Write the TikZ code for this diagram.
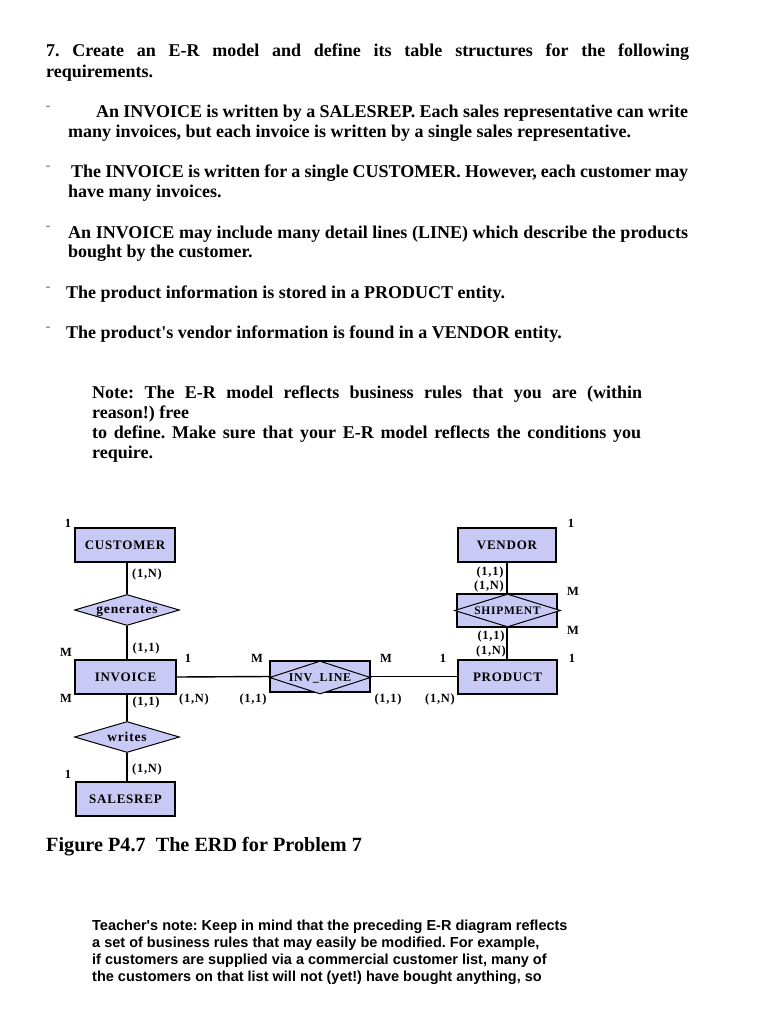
\documentclass[tikz,border=0pt]{standalone}
\usepackage{fontspec}
\setmainfont{Liberation Serif}
\newfontfamily\sansb{Liberation Sans}
\newfontfamily\dejav{DejaVu Sans}
\newfontfamily\diaf[LetterSpace=6]{Liberation Serif}
\usetikzlibrary{shapes.geometric}
\definecolor{erfill}{RGB}{201,201,245}
\frenchspacing
\begin{document}
\begin{tikzpicture}[x=1pt,y=-1pt,
  txt/.style={anchor=base west, inner sep=0pt, font=\fontsize{18}{20}\selectfont\bfseries},
  bul/.style={anchor=base, inner sep=0pt, font=\dejav\fontsize{11}{11}\selectfont},
  captxt/.style={anchor=base west, inner sep=0pt, font=\fontsize{20.2}{22}\selectfont\bfseries},
  tnote/.style={anchor=base west, inner sep=0pt, font=\sansb\fontsize{14.5}{17}\selectfont\bfseries},
  entity/.style={draw=black, line width=1.3pt, fill=erfill, minimum width=100pt, minimum height=34pt, inner sep=0pt, font=\diaf\fontsize{13}{13}\selectfont\bfseries},
  relbox/.style={draw=black, line width=1.3pt, fill=erfill, minimum width=100pt, minimum height=32pt, inner sep=0pt},
  rel/.style={diamond, draw=black, line width=1pt, fill=erfill, aspect=3.6, inner sep=0pt, text depth=0pt, minimum width=105pt, minimum height=31pt, font=\diaf\fontsize{13.5}{13.5}\selectfont\bfseries},
  card/.style={inner sep=0pt, font=\diaf\fontsize{12.5}{12.5}\selectfont\bfseries},
  conn/.style={line width=2.8pt},
  link/.style={line width=1.4pt}]
\fill[white] (0,0) rectangle (768,1024);
\useasboundingbox (0,0) rectangle (768,1024);

% ---- problem text ----
\node[txt] (l1) at (46,57) {\makebox[643pt][s]{7. Create an E-R model and define its table structures for the following}};
\node[txt] (l2) at (46,78) {requirements.};

\node[bul] (b1) at (48,115) {¨};
\node[txt] (p1a) at (96,118) {\makebox[592pt][s]{An INVOICE is written by a SALESREP. Each sales representative can write}};
\node[txt] (p1b) at (68,138) {many invoices, but each invoice is written by a single sales representative.};

\node[bul] (b2) at (48,175) {¨};
\node[txt] (p2a) at (71,178) {\makebox[617pt][s]{The INVOICE is written for a single CUSTOMER. However, each customer may}};
\node[txt] (p2b) at (68,198) {have many invoices.};

\node[bul] (b3) at (48,235) {¨};
\node[txt] (p3a) at (68,238) {\makebox[620pt][s]{An INVOICE may include many detail lines (LINE) which describe the products}};
\node[txt] (p3b) at (68,258) {bought by the customer.};

\node[bul] (b4) at (48,295) {¨};
\node[txt] (p4) at (66,298) {The product information is stored in a PRODUCT entity.};

\node[bul] (b5) at (48,335) {¨};
\node[txt] (p5) at (66,338) {The product\textquotesingle s vendor information is found in a VENDOR entity.};

\node[txt] (n1) at (92,398) {\makebox[550pt][s]{Note: The E-R model reflects business rules that you are (within}};
\node[txt] (n2) at (92,418) {reason!) free};
\node[txt] (n3) at (92,438) {\makebox[549pt][s]{to define. Make sure that your E-R model reflects the conditions you}};
\node[txt] (n4) at (92,458) {require.};

% ---- diagram ----
\node[entity] (cust) at (125,545) {CUSTOMER};
\node[entity, minimum width=98pt] (vend) at (507,545) {VENDOR};
\node[entity, minimum width=101pt] (inv) at (125.5,677) {INVOICE};
\node[entity, minimum width=99pt] (prod) at (507.5,677) {PRODUCT};
\node[entity, minimum width=99pt] (srep) at (125.5,799) {SALESREP};

\node[rel] (gen) at (127,610) {generates};
\node[rel] (wri) at (127,737) {writes};

\node[relbox, minimum height=33pt] (shipbox) at (507,610.5) {};
\node[rel, aspect=3.4, minimum width=106pt, minimum height=33pt, font=\diaf\fontsize{11.5}{11.5}\selectfont\bfseries] (ship) at (507.5,610.5) {SHIPMENT};

\node[relbox, minimum height=31pt] (ilbox) at (320,676.5) {};
\node[rel, aspect=3.4, minimum width=101pt, minimum height=33pt, font=\diaf\fontsize{12}{12}\selectfont\bfseries] (il) at (320,677.5) {INV\_LINE};

\draw[conn] (gen.north) -- (gen.north |- cust.south);
\draw[conn] (gen.south) -- (gen.south |- inv.north);
\draw[conn] (wri.north) -- (wri.north |- inv.south);
\draw[conn] (wri.south) -- (wri.south |- srep.north);
\draw[link] (inv.east) -- (ilbox.west);
\draw[link] (ilbox.east) -- (prod.west |- ilbox.east);
\draw[link] (shipbox.north) -- (shipbox.north |- vend.south);
\draw[link] (shipbox.south) -- (shipbox.south |- prod.north);

% cardinalities
\node[card] (c1) at (68,523) {1};
\node[card] (c2) at (571,523) {1};
\node[card] (c3) at (147,574) {(1,N)};
\node[card] (c4) at (146,648) {(1,1)};
\node[card] (c5) at (66,652) {M};
\node[card] (c6) at (188,658) {1};
\node[card] (c7) at (66,698) {M};
\node[card] (c8) at (146,702) {(1,1)};
\node[card] (c9) at (194,699) {(1,N)};
\node[card] (c10) at (147,769) {(1,N)};
\node[card] (c11) at (68,774) {1};
\node[card] (c12) at (257,658) {M};
\node[card] (c13) at (253,699) {(1,1)};
\node[card] (c14) at (386,658) {M};
\node[card] (c15) at (388,699) {(1,1)};
\node[card] (c16) at (443,658) {1};
\node[card] (c17) at (440,699) {(1,N)};
\node[card] (c18) at (572,658) {1};
\node[card] (c19) at (490,572) {(1,1)};
\node[card] (c20) at (489,586) {(1,N)};
\node[card] (c21) at (573,591) {M};
\node[card] (c22) at (573,630) {M};
\node[card] (c23) at (491,636) {(1,1)};
\node[card] (c24) at (491,651) {(1,N)};

% caption
\node[captxt] (capt) at (46,851) {Figure P4.7\ \ The ERD for Problem 7};

% teacher's note
\node[tnote] (t1) at (92,930) {Teacher\textquotesingle s note: Keep in mind that the preceding E-R diagram reflects};
\node[tnote] (t2) at (92,947) {a set of business rules that may easily be modified. For example,};
\node[tnote] (t3) at (92,964) {if customers are supplied via a commercial customer list, many of};
\node[tnote] (t4) at (92,981) {the customers on that list will not (yet!) have bought anything, so};
\end{tikzpicture}
\end{document}
